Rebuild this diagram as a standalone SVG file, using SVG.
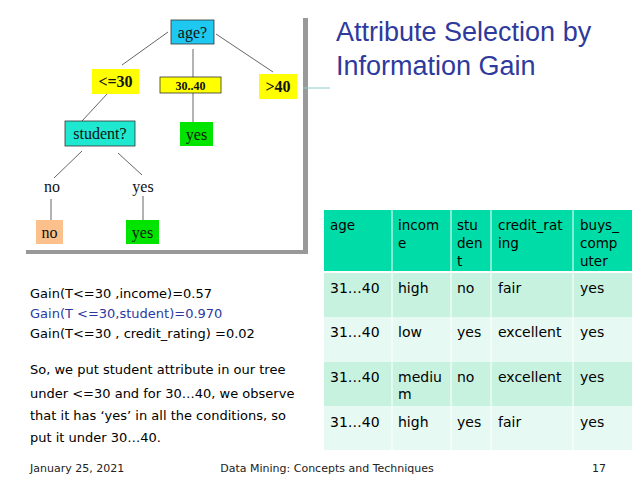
<svg xmlns="http://www.w3.org/2000/svg" width="638" height="478" viewBox="0 0 638 478">
<style>
.t{font-family:"Liberation Serif",serif;font-size:16px;fill:#111;text-anchor:middle}
.b{font-weight:bold}
.s{font-family:Tahoma,"DejaVu Sans",sans-serif;font-size:14px;fill:#000}
.c{font-family:Tahoma,"DejaVu Sans",sans-serif;font-size:13.5px;fill:#000}
.k{stroke:#333;stroke-width:0.8}
line{stroke:#666;stroke-width:1}
</style>
<rect width="638" height="478" fill="#fff"/>
<rect x="26" y="18" width="282" height="236" fill="#999"/>
<rect x="20" y="12" width="283" height="238" fill="#fff"/>
<line x1="303" y1="88" x2="330" y2="88" style="stroke:#8cc;stroke-width:1"/>
<g id="connectors">
<line x1="168" y1="32" x2="122" y2="65"/>
<line x1="193" y1="49" x2="193" y2="77"/>
<line x1="216" y1="34" x2="273" y2="72"/>
<line x1="107" y1="94" x2="82" y2="121"/>
<line x1="193" y1="93" x2="193" y2="123"/>
<line x1="82" y1="151" x2="54" y2="178"/>
<line x1="118" y1="153" x2="142" y2="175"/>
<line x1="51" y1="199" x2="51" y2="220"/>
<line x1="143" y1="196" x2="143" y2="220"/>
</g>
<g id="age"><rect x="171" y="20" width="43" height="24" fill="#1ec8f0" class="k"/><text x="192.5" y="38" class="t">age?</text></g>
<g id="le30"><rect x="92" y="69" width="47" height="25" fill="#ffff00"/><text x="115.5" y="87" class="t b">&lt;=30</text></g>
<g id="r3040"><rect x="160" y="77" width="61" height="16" fill="#ffff00" class="k"/><text x="190.5" y="90" class="t b" style="font-size:12px">30..40</text></g>
<g id="gt40"><rect x="259" y="74" width="38" height="25" fill="#ffff00"/><text x="278" y="92" class="t b">&gt;40</text></g>
<g id="student"><rect x="65" y="121" width="70" height="25" fill="#1ee8d0" class="k"/><text x="100" y="139" class="t">student?</text></g>
<g id="yes1"><rect x="180" y="122" width="33" height="24" fill="#00e400"/><text x="196.5" y="140" class="t">yes</text></g>
<g id="nolab"><text x="52" y="192" class="t">no</text></g>
<g id="yeslab"><text x="143" y="192" class="t">yes</text></g>
<g id="no2"><rect x="36" y="220" width="27" height="24" fill="#fbc08c"/><text x="49.5" y="238" class="t">no</text></g>
<g id="yes2"><rect x="126" y="220" width="33" height="24" fill="#00e400"/><text x="142.5" y="238" class="t">yes</text></g>
<text x="336" y="41" style="font-family:'Liberation Sans',sans-serif;font-size:27px;fill:#2e3a9c">Attribute Selection by</text>
<text x="336" y="75" style="font-family:'Liberation Sans',sans-serif;font-size:27px;fill:#2e3a9c">Information Gain</text>
<g id="table">
<rect x="324" y="210" width="308" height="62" fill="#00dca8"/>
<rect x="324" y="272" width="308" height="45" fill="#c8f2e0"/>
<rect x="324" y="317" width="308" height="45" fill="#e6f9f2"/>
<rect x="324" y="362" width="308" height="44" fill="#c8f2e0"/>
<rect x="324" y="406" width="308" height="44" fill="#e6f9f2"/>
<g style="stroke:#fff;stroke-width:2">
<line x1="392" y1="210" x2="392" y2="450" style="stroke:#fff"/><line x1="451" y1="210" x2="451" y2="450" style="stroke:#fff"/>
<line x1="491" y1="210" x2="491" y2="450" style="stroke:#fff"/><line x1="573" y1="210" x2="573" y2="450" style="stroke:#fff"/>
<line x1="324" y1="272" x2="632" y2="272" style="stroke:#fff;stroke-width:2"/>
</g>
<g class="c">
<text x="330" y="230">age</text>
<text x="398" y="230">incom</text><text x="398" y="248">e</text>
<text x="457" y="230">stu</text><text x="457" y="248">den</text><text x="457" y="266">t</text>
<text x="498" y="230">credit_rat</text><text x="498" y="248">ing</text>
<text x="580" y="230">buys_</text><text x="580" y="248">comp</text><text x="580" y="266">uter</text>
</g>
<g class="s">
<text x="330" y="293">31…40</text><text x="398" y="293">high</text><text x="457" y="293">no</text><text x="498" y="293">fair</text><text x="580" y="293">yes</text>
<text x="330" y="337">31…40</text><text x="398" y="337">low</text><text x="457" y="337">yes</text><text x="498" y="337">excellent</text><text x="580" y="337">yes</text>
<text x="330" y="382">31…40</text><text x="398" y="382">mediu</text><text x="398" y="399">m</text><text x="457" y="382">no</text><text x="498" y="382">excellent</text><text x="580" y="382">yes</text>
<text x="330" y="427">31…40</text><text x="398" y="427">high</text><text x="457" y="427">yes</text><text x="498" y="427">fair</text><text x="580" y="427">yes</text>
</g>
</g>
<g style="font-family:Tahoma,'DejaVu Sans',sans-serif;font-size:13px;fill:#000">
<text x="30" y="298">Gain(T&lt;=30 ,income)=0.57</text>
<text x="30" y="318" style="fill:#2b3aa0">Gain(T &lt;=30,student)=0.970</text>
<text x="30" y="338">Gain(T&lt;=30 , credit_rating) =0.02</text>
<text x="30" y="374">So, we put student attribute in our tree</text>
<text x="30" y="398">under &lt;=30 and for 30…40, we observe</text>
<text x="30" y="420">that it has ‘yes’ in all the conditions, so</text>
<text x="30" y="442">put it under 30…40.</text>
</g>
<g style="font-family:Tahoma,'DejaVu Sans',sans-serif;font-size:11px;fill:#222">
<text x="30" y="472">January 25, 2021</text>
<text x="327" y="472" text-anchor="middle">Data Mining: Concepts and Techniques</text>
<text x="606" y="472" text-anchor="end">17</text>
</g>
</svg>
